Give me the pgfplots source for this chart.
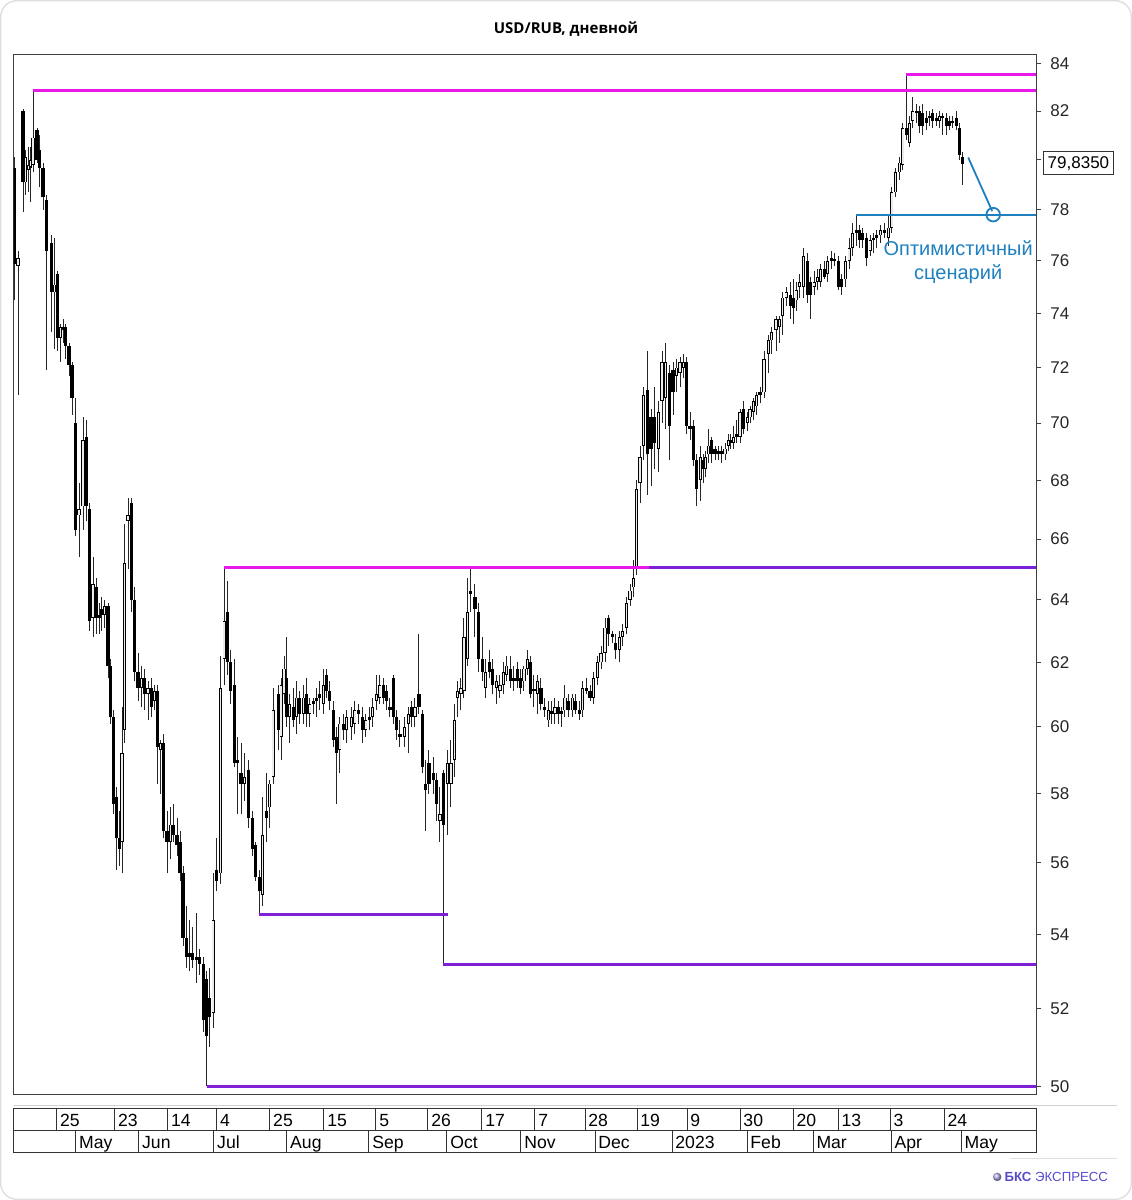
\documentclass[border=0pt]{standalone}
\usepackage{pgfplots}
\pgfplotsset{compat=1.18}
\usepackage{pgfplotstable}
\usepackage{fontspec}
\setmainfont{Liberation Sans}
\newfontfamily\titlefont{Open Sans}
\definecolor{mag}{RGB}{232,24,232}
\definecolor{pur}{RGB}{125,32,215}
\definecolor{annblue}{RGB}{30,128,190}
\definecolor{logo}{RGB}{88,76,200}

\pgfplotstableread{
x o h l c
15.0 79.7 80.1 74.5 75.9
18.3 75.8 76.4 71.0 76.1
23.3 82.0 82.1 77.9 79.1
26.0 79.1 80.4 78.6 80.1
28.5 79.6 80.5 78.7 79.8
30.7 79.7 80.5 78.3 80.0
33.3 79.8 82.86 79.5 80.9
37.3 81.2 81.3 79.9 80.0
40.0 80.4 81.0 78.9 79.7
43.3 79.7 79.9 78.0 78.5
46.7 78.4 78.6 71.9 76.4
51.7 76.7 77.0 73.3 74.8
55.0 74.8 76.9 72.7 75.1
57.8 75.5 75.6 72.6 73.1
60.7 73.1 73.6 72.2 73.5
63.5 73.5 73.8 72.9 73.4
66.0 73.5 73.6 72.3 72.8
69.3 72.8 72.9 71.7 72.1
72.3 72.1 72.2 70.3 70.9
75.7 70.0 70.9 66.1 66.3
79.3 66.8 67.9 65.4 67.0
83.3 67.1 70.2 66.3 69.4
86.7 69.5 70.1 66.6 67.1
90.0 67.0 67.2 63.0 63.3
93.3 63.4 65.4 62.8 64.5
96.7 64.4 64.7 62.9 63.4
99.3 63.4 63.9 62.9 63.5
101.9 63.7 64.1 63.0 63.5
104.5 63.5 64.0 63.1 63.8
108.3 63.8 63.9 61.5 61.9
111.0 61.9 62.1 60.1 60.3
113.8 60.3 60.5 57.4 57.7
116.7 57.9 58.2 55.8 56.7
119.5 56.7 57.5 55.9 56.4
122.3 56.6 60.6 55.7 59.2
125.0 59.9 66.5 59.5 65.2
128.3 66.6 67.4 65.0 66.8
131.7 67.2 67.4 63.6 64.0
135.0 64.0 64.4 61.4 61.7
138.3 61.7 62.3 60.8 61.2
141.7 61.2 61.9 60.6 61.5
145.0 61.5 61.8 60.5 61.0
148.3 61.0 61.4 60.2 61.2
151.7 61.2 61.5 60.3 60.6
154.5 60.8 61.3 60.5 61.1
157.5 61.1 61.3 58.3 59.4
160.5 59.3 59.6 58.0 59.5
164.0 59.5 59.8 56.7 56.9
167.3 56.9 57.5 55.7 56.6
170.7 56.6 57.6 56.1 57.1
174.0 57.1 57.7 56.6 56.8
177.3 56.8 57.3 56.2 56.5
180.3 56.6 56.9 55.5 55.7
183.3 55.7 55.9 53.7 53.9
186.5 53.9 54.8 53.1 53.4
189.7 53.4 54.4 53.0 53.5
193.0 53.5 54.2 53.1 53.3
196.3 53.3 54.6 52.7 53.4
199.7 53.4 53.6 52.9 53.2
203.3 53.2 53.4 51.4 51.7
206.7 52.8 53.0 50.0 51.3
210.0 52.3 53.1 51.0 51.8
213.3 51.9 55.7 51.5 54.4
216.7 55.8 56.7 55.2 55.5
220.7 55.7 62.2 55.4 61.2
224.3 62.1 65.06 61.3 63.3
227.7 63.6 64.6 61.6 62.0
230.9 62.0 62.4 60.7 61.1
234.3 61.3 62.1 58.8 58.9
237.7 59.0 59.7 57.4 58.9
241.2 58.6 59.5 57.4 58.3
244.8 58.3 59.2 57.8 58.5
248.7 58.7 59.0 57.0 57.3
252.4 57.3 57.5 56.2 56.4
256.0 56.5 56.6 55.5 55.6
259.3 55.6 55.8 54.56 55.2
262.7 55.1 57.9 54.8 56.8
266.4 57.5 58.6 56.6 57.3
270.0 57.6 58.4 57.0 58.3
273.3 58.5 61.2 58.3 60.5
278.3 61.0 61.3 59.3 59.9
281.3 59.7 61.5 59.0 61.3
284.2 61.0 62.2 60.7 61.8
287.0 61.5 62.8 60.0 60.3
290.0 60.3 61.0 59.5 60.7
293.3 60.6 61.2 60.0 60.2
296.7 60.3 61.4 59.8 60.9
300.0 60.9 61.1 60.1 60.4
303.3 60.4 61.3 60.1 60.9
306.7 61.0 61.5 60.0 60.4
310.0 60.4 60.9 60.0 60.7
313.3 60.7 60.9 60.4 60.8
316.7 60.8 61.2 60.3 60.9
320.0 60.9 61.4 60.5 61.0
323.3 60.7 61.8 60.4 61.3
326.7 61.6 61.8 60.9 61.1
330.0 61.1 61.4 60.5 60.8
333.3 60.5 60.8 59.4 59.6
336.7 59.7 60.0 57.7 59.2
340.0 59.3 60.3 58.6 60.1
343.3 60.1 60.4 59.6 59.9
346.7 59.9 60.5 59.5 60.3
351.7 60.0 60.6 59.6 60.3
355.0 60.1 60.8 59.8 60.5
358.3 60.5 60.7 60.1 60.4
362.7 60.3 60.6 59.5 59.9
366.0 59.9 60.4 59.7 60.2
369.3 60.2 60.6 59.9 60.3
372.7 60.3 60.9 60.0 60.6
376.7 60.8 61.6 60.5 61.0
380.0 60.9 61.6 60.7 61.3
383.3 61.3 61.5 60.7 60.9
386.7 61.1 61.3 60.5 60.8
390.0 60.6 60.9 60.3 60.5
393.3 61.5 61.6 60.1 60.3
396.7 60.3 60.5 59.6 59.9
400.0 59.8 60.2 59.4 59.7
404.3 59.7 60.3 59.4 60.0
408.3 60.1 60.6 59.2 60.4
411.7 60.6 60.8 60.0 60.3
415.0 60.3 60.9 60.0 60.6
419.0 61.0 62.9 60.4 60.6
422.3 60.4 60.5 58.6 58.8
425.7 58.3 59.0 56.9 58.1
429.0 58.9 59.3 58.0 58.3
433.3 58.6 59.1 58.0 58.4
436.7 58.4 58.6 57.2 57.7
440.0 57.2 58.2 56.6 57.4
443.3 58.6 58.7 53.2 57.1
447.7 58.3 59.3 56.8 58.9
451.0 58.3 59.6 57.6 58.9
454.3 59.0 60.7 58.5 60.2
457.3 60.9 61.4 60.3 61.1
461.0 61.0 61.5 60.5 61.2
464.0 61.1 63.4 60.9 62.8
467.3 62.1 64.7 61.9 63.6
470.7 64.3 65.06 63.6 64.2
475.0 64.1 64.5 62.8 63.7
478.3 63.6 63.9 61.7 62.1
482.3 62.1 62.8 61.4 61.7
485.7 61.2 62.1 60.9 61.7
489.3 62.0 62.4 61.5 61.7
492.7 61.8 62.1 61.0 61.3
496.7 61.2 61.6 60.7 61.4
500.0 61.1 61.6 60.9 61.3
503.3 61.3 62.0 61.0 61.7
506.7 61.6 62.2 61.4 61.9
510.7 61.8 62.2 61.2 61.4
514.0 61.4 61.9 61.1 61.5
517.3 61.8 62.0 61.2 61.4
520.7 61.5 61.8 61.0 61.2
524.0 61.4 61.9 61.1 61.8
527.3 61.8 62.4 61.6 62.1
530.7 62.0 62.2 60.9 61.0
534.0 61.1 61.6 60.6 61.1
537.3 61.0 61.6 60.4 61.4
541.0 61.2 61.5 60.5 60.7
544.7 60.6 60.9 60.3 60.5
548.3 60.2 60.8 60.0 60.5
551.7 60.4 60.8 60.1 60.4
555.0 60.4 60.9 60.1 60.6
558.3 60.6 60.8 60.1 60.4
561.7 60.4 60.6 60.0 60.4
565.0 60.5 61.3 60.3 60.9
568.7 60.8 61.0 60.3 60.5
572.3 60.5 61.0 60.3 60.9
575.7 60.8 61.0 60.4 60.5
579.3 60.4 60.8 60.2 60.5
582.7 60.5 61.4 60.3 61.2
586.7 61.2 61.5 61.0 61.1
590.0 61.1 61.3 60.8 60.9
593.3 60.9 61.7 60.7 61.5
597.3 61.5 62.2 61.3 62.0
601.0 62.0 62.5 61.8 62.3
605.0 62.3 63.4 62.0 63.1
608.7 63.4 63.5 62.5 62.9
612.3 62.9 63.0 62.6 62.8
615.7 62.6 62.9 62.1 62.4
619.3 62.4 63.0 62.0 62.8
622.7 62.8 63.2 62.5 63.0
626.7 63.1 64.1 62.9 63.9
630.0 64.0 64.5 63.8 64.3
633.3 64.4 65.3 64.1 64.7
636.7 65.0 68.0 64.8 67.7
640.0 67.9 69.2 67.2 68.8
643.7 69.2 71.3 68.7 71.0
647.3 71.2 72.6 67.5 68.9
651.0 70.2 70.5 67.8 69.1
654.7 70.2 71.3 68.4 69.3
658.3 69.1 70.8 68.3 70.4
662.0 70.8 72.6 70.0 72.2
665.7 70.9 72.9 69.8 72.2
669.3 71.8 72.1 68.7 69.9
673.0 71.9 72.2 70.3 71.1
676.7 71.7 72.3 71.1 72.0
680.0 71.8 72.4 71.3 72.2
683.3 72.0 72.5 71.6 72.2
686.5 72.2 72.4 69.6 69.9
690.0 69.9 70.4 69.4 69.8
693.3 69.9 70.1 68.5 68.7
696.7 68.7 68.9 67.1 67.7
700.7 68.0 69.2 67.3 68.8
703.2 68.7 68.9 67.9 68.4
705.7 68.4 69.0 68.1 68.8
708.3 68.9 69.8 68.6 69.2
711.7 69.4 69.5 68.6 68.9
715.0 69.1 69.2 68.7 68.9
718.3 68.9 69.2 68.7 69.0
721.7 69.0 69.2 68.6 68.9
725.0 68.9 69.3 68.7 69.1
728.3 69.2 69.6 69.0 69.4
730.8 69.4 69.6 69.1 69.3
733.3 69.3 69.9 69.1 69.5
736.7 69.5 70.1 69.3 69.6
740.0 69.5 70.5 69.3 70.4
743.3 70.5 70.8 69.6 69.8
747.3 70.0 70.4 69.7 70.2
750.0 70.2 70.6 70.0 70.5
753.3 70.4 70.9 70.1 70.8
756.3 70.6 71.1 70.3 71.0
760.0 71.0 71.3 70.7 71.1
764.0 71.1 72.6 70.9 72.3
768.3 72.5 73.2 71.8 73.0
771.7 73.0 73.5 72.5 73.3
776.0 73.4 73.9 72.6 73.8
779.3 73.5 73.9 72.9 73.8
782.7 73.9 74.8 73.2 74.6
786.0 74.6 75.0 74.3 74.8
790.0 74.7 75.2 73.8 74.3
793.3 74.6 75.3 73.6 74.2
796.0 74.5 75.2 74.1 74.9
799.3 75.0 75.5 74.6 75.2
803.5 75.0 76.5 74.6 76.2
807.3 76.0 76.3 74.4 74.7
810.7 75.2 75.4 73.8 74.7
814.0 75.0 75.6 74.7 75.2
817.3 75.2 75.7 74.9 75.4
820.7 75.2 75.9 75.0 75.7
824.0 75.7 76.0 75.3 75.4
827.3 75.5 76.2 75.2 76.0
831.0 76.0 76.4 75.7 76.1
834.7 76.0 76.3 75.8 76.05
838.3 76.0 76.2 74.9 75.0
841.7 75.3 75.5 74.7 75.0
845.3 75.3 76.2 75.0 76.0
849.0 76.0 76.9 75.7 76.5
852.7 76.5 77.5 76.2 77.1
856.0 77.1 77.81 76.6 77.2
859.3 77.2 77.4 76.5 76.8
862.7 77.1 77.3 76.5 76.8
866.3 76.9 77.1 75.8 76.1
870.0 76.4 77.0 76.2 76.8
873.3 76.8 77.1 76.3 76.9
876.7 76.9 77.2 76.5 77.0
880.0 77.0 77.4 76.7 77.2
884.0 77.2 77.5 76.9 77.1
888.0 76.9 77.8 76.6 77.3
891.7 77.3 78.9 77.1 78.7
895.0 78.7 79.7 78.5 79.5
899.0 79.5 80.1 79.2 79.9
902.7 79.8 81.5 79.6 81.3
906.0 81.3 83.53 80.8 81.0
909.3 80.7 81.8 80.5 81.5
912.7 81.6 82.6 81.3 82.0
916.0 81.9 82.3 81.5 82.0
919.3 82.0 82.2 81.1 81.4
922.7 81.9 82.3 81.0 81.4
926.0 81.7 82.0 81.2 81.5
929.3 81.7 82.0 81.4 81.8
932.7 81.9 82.1 81.3 81.6
936.0 81.6 81.9 81.4 81.7
939.3 81.6 82.0 81.3 81.8
942.7 81.8 81.9 81.0 81.7
946.0 81.7 81.9 81.0 81.4
949.3 81.6 81.8 81.2 81.4
952.7 81.5 81.8 81.3 81.6
956.0 81.7 82.0 81.2 81.4
959.3 81.3 81.5 80.0 80.2
962.7 80.1 80.3 79.0 79.84
}\candles

% build segment lists (wick, body, white interior) from the table rows
\pgfplotstablegetrowsof{\candles}
\pgfmathtruncatemacro{\lastrow}{\pgfplotsretval-1}
\gdef\wicks{}\gdef\bodies{}\gdef\upbodies{}
\foreach \i in {0,...,\lastrow}{%
  \pgfplotstablegetelem{\i}{x}\of\candles \let\cx\pgfplotsretval
  \pgfplotstablegetelem{\i}{o}\of\candles \let\co\pgfplotsretval
  \pgfplotstablegetelem{\i}{h}\of\candles \let\ch\pgfplotsretval
  \pgfplotstablegetelem{\i}{l}\of\candles \let\cl\pgfplotsretval
  \pgfplotstablegetelem{\i}{c}\of\candles \let\cc\pgfplotsretval
  \xdef\wicks{\wicks (\cx,\cl) (\cx,\ch) (\cx,nan)}%
  \pgfmathsetmacro\bl{min(\co,\cc)}%
  \pgfmathsetmacro\bt{max(max(\co,\cc),\bl+0.07)}%
  \xdef\bodies{\bodies (\cx,\bl) (\cx,\bt) (\cx,nan)}%
  \pgfmathtruncatemacro\isup{(\cc-\co)>0.12 ? 1 : 0}%
  \ifnum\isup=1
    \pgfmathsetmacro\wl{\co*1.0004}%
    \pgfmathsetmacro\wt{\cc*0.9996}%
    \xdef\upbodies{\upbodies (\cx,\wl) (\cx,\wt) (\cx,nan)}%
  \fi
}

\begin{document}
\begin{tikzpicture}[x=1pt,y=1pt]
% outer frame
\draw[black!13, line width=0.7pt, rounded corners=8pt] (0.5pt,-0.5pt) rectangle (565.5pt,-599.5pt);
% title
\node[anchor=base, font=\titlefont\bfseries\fontsize{7.5}{9}\selectfont] at (283pt,-16.7pt) {USD/RUB, дневной};

\begin{axis}[
  at={(7pt,-547pt)}, anchor=south west,
  scale only axis, width=511pt, height=519.5pt,
  xmin=14, xmax=1036,
  ymode=log, ymin=49.80, ymax=84.38,
  xtick=\empty,
  ytick={50,52,54,56,58,60,62,64,66,68,70,72,74,76,78,80,82,84},
  yticklabels={50,52,54,56,58,60,62,64,66,68,70,72,74,76,78,{},82,84},
  ytick pos=right, yticklabel pos=right,
  tick align=outside, major tick length=2.5pt,
  tick style={black!75, line width=0.5pt},
  yticklabel style={font=\fontsize{8.5}{10}\selectfont, anchor=west, xshift=1pt, text=black!85},
  axis line style={black!75, line width=0.5pt},
  clip=true,
]
\edef\plotcandles{%
  \noexpand\addplot[black!85, line width=0.5pt, mark=none, unbounded coords=jump] coordinates {\wicks};
  \noexpand\addplot[black, line width=1.6pt, mark=none, unbounded coords=jump] coordinates {\bodies};
  \noexpand\addplot[black!8, line width=0.65pt, mark=none, unbounded coords=jump] coordinates {\upbodies};
}
\plotcandles

% level lines
\addplot[mag, line width=1.5pt] coordinates {(33.3,82.86) (1036,82.86)};
\addplot[mag, line width=1.5pt] coordinates {(906,83.53) (1036,83.53)};
\addplot[mag, line width=1.5pt] coordinates {(224.3,65.06) (649,65.06)};
\addplot[pur, line width=1.5pt] coordinates {(649,65.06) (1036,65.06)};
\addplot[pur, line width=1.5pt] coordinates {(259.3,54.56) (448,54.56)};
\addplot[pur, line width=1.5pt] coordinates {(443.3,53.2) (1036,53.2)};
\addplot[pur, line width=1.5pt] coordinates {(206.7,50.0) (1036,50.0)};
\addplot[annblue, line width=1pt] coordinates {(856,77.81) (1036,77.81)};
% scenario arrow
\addplot[annblue, line width=0.9pt] coordinates {(968,80.09) (992,77.95)};
\addplot[annblue, only marks, mark=o, mark size=3.4pt, mark options={line width=0.9pt}] coordinates {(993,77.81)};
\end{axis}

% annotation
\node[annblue, font=\fontsize{10}{12}\selectfont, align=center] at (479pt,-131pt) {Оптимистичный\\сценарий};
% current price box
\node[draw=black!80, line width=0.5pt, fill=white, anchor=west, inner xsep=2pt, inner ysep=1.5pt, minimum height=11.5pt, font=\fontsize{8.5}{10}\selectfont] at (521.5pt,-81.75pt) {79,8350};

% date scale
\draw[black!18, line width=0.6pt] (7pt,-552.8pt) -- (558.5pt,-552.8pt);
\draw[black!80, line width=0.5pt] (7pt,-554pt) rectangle (518pt,-576pt);
\draw[black!80, line width=0.5pt] (7pt,-565pt) -- (518pt,-565pt);
\begin{scope}[font=\fontsize{8.8}{10}\selectfont]
\foreach \p/\t in {57/25,115/23,168/14,217/4,270/25,324/15,376/5,428/26,482/17,535/7,585/28,637/19,687/9,740/30,793/20,838/13,890/3,944/24}{
  \draw[black!80, line width=0.5pt] (\p*0.5pt,-554pt) -- (\p*0.5pt,-565pt);
  \node[anchor=base west, inner sep=0pt] at (\p*0.5pt+1.5pt,-563pt) {\t};
}
\foreach \p/\t in {76/May,139/Jun,214/Jul,287/Aug,369/Sep,447/Oct,521/Nov,595/Dec,672/2023,747/Feb,813/Mar,891/Apr,961/May}{
  \draw[black!80, line width=0.5pt] (\p*0.5pt,-565pt) -- (\p*0.5pt,-576pt);
  \node[anchor=base west, inner sep=0pt] at (\p*0.5pt+1.5pt,-574pt) {\t};
}
\end{scope}
\draw[black!12, line width=0.6pt] (505pt,-579pt) -- (558.5pt,-579pt);

% logo
\shade[ball color=logo!45] (498.5pt,-588.3pt) circle (2.1pt);
\node[anchor=base west, inner sep=0pt, text=logo, font=\fontsize{6.6}{7}\selectfont] at (502pt,-590.5pt) {\textbf{БКС} ЭКСПРЕСС};
\end{tikzpicture}
\end{document}
